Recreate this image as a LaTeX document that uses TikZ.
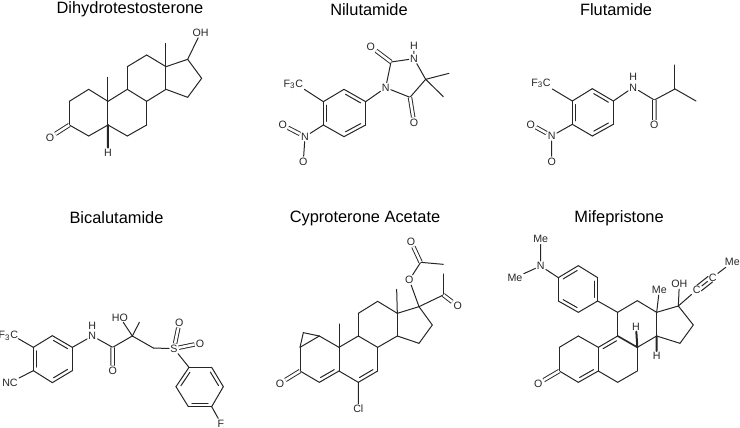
\documentclass[tikz,border=0pt]{standalone}
\usepackage{fontspec}
\setmainfont{Liberation Sans}
\usetikzlibrary{calc}
\definecolor{ink}{HTML}{262626}
\tikzset{
  bond/.style={draw=ink,line width=.75pt,line cap=round},
  boldbond/.style={draw=ink,line width=1.5pt,line cap=round},
  dbond/.style={draw=ink,line width=.7pt,double=white,double distance=1.9pt},
  atom/.style={inner sep=.8pt,text=ink,font=\fontsize{8}{8}\selectfont},
  molname/.style={inner sep=0pt,text=black,font=\fontsize{12.3}{14}\selectfont},
  mol/.style={scale=1/3}
}
\newcommand{\inbond}[3]{\draw[bond] ($(#1)!0.15!(#2)!8pt!#3:(#2)$) -- ($(#1)!0.85!(#2)!8pt!#3:(#2)$);}
\begin{document}
\begin{tikzpicture}[x=.75pt,y=-.75pt]
\useasboundingbox (0,0) rectangle (740,428);
\node[molname] (t1) at (130,9.5) {Dihydrotestosterone};
\node[molname] (t2) at (369,9.5) {Nilutamide};
\node[molname] (t3) at (616,9.5) {Flutamide};
\node[molname] (t4) at (116.5,218) {Bicalutamide};
\node[molname] (t5) at (365,218) {Cyproterone Acetate};
\node[molname] (t6) at (619,218) {Mifepristone};

% Dihydrotestosterone
\begin{scope}[shift={(30,0)},mol]
\foreach \n/\x/\y in {d3/118/375,d2/118/304,d1/176/268,d10/234/304,d5/234/375,d4/176/408,d9/292/268,d8/350/304,d7/350/375,d6/292/408,d11/292/200,d12/350/165,d13/408/200,d14/408/268,d15/473/292,d16/515/235,d17/473/178,dm13/408/130,dm10/234/232}
  \coordinate (\n) at (\x,\y);
\node[atom] (dO) at (60,412) {O};
\node[atom] (dOH) at (512,98) {OH};
\node[atom] (dH) at (234,458) {H};
\foreach \a/\b in {d3/d2,d2/d1,d1/d10,d10/d5,d5/d4,d4/d3,d10/d9,d9/d8,d8/d7,d7/d6,d6/d5,d9/d11,d11/d12,d12/d13,d13/d14,d14/d8,d14/d15,d15/d16,d16/d17,d17/d13,d13/dm13,d10/dm10,d17/dOH}
  \draw[bond] (\a)--(\b);
\draw[boldbond] (d5)--(dH);
\draw[dbond] (d3)--(dO);
\end{scope}

% Nilutamide
\begin{scope}[shift={(270,0)},mol]
\foreach \n/\x/\y in {na1/222/268,na2/287/305,na3/287/375,na4/222/410,na5/160/375,na6/160/305,ncf/103/268,nc1/363/186,nc2/467/238,nc3/420/292,nm1/537/220,nm2/520/290}
  \coordinate (\n) at (\x,\y);
\node[atom] (nF) at (70,253) {F\textsubscript{3}C};
\node[atom] (nNn) at (105,410) {N};
\node[atom] (nO1) at (38,375) {O};
\node[atom] (nO2) at (100,484) {O};
\node[atom] (nN) at (347,263) {N};
\node[atom] (nN2) at (432,176) {N};
\node[atom] (nH) at (432,138) {H};
\node[atom] (nO3) at (302,140) {O};
\node[atom] (nO4) at (432,367) {O};
\foreach \a/\b in {na1/na2,na2/na3,na3/na4,na4/na5,na5/na6,na6/na1,na6/ncf,na5/nNn,nNn/nO2,na2/nN,nN/nc1,nc1/nN2,nN2/nc2,nc2/nc3,nc3/nN,nc2/nm1,nc2/nm2,nN2/nH}
  \draw[bond] (\a)--(\b);
\draw[dbond] (nNn)--(nO1);
\draw[dbond] (nc1)--(nO3);
\draw[dbond] (nc3)--(nO4);
\inbond{na6}{na5}{90}
\inbond{na1}{na2}{-90}
\inbond{na4}{na3}{90}
\end{scope}

% Flutamide
\begin{scope}[shift={(510,0)},mol]
\foreach \n/\x/\y in {fa1/247/266,fa2/310/303,fa3/310/373,fa4/247/408,fa5/187/373,fa6/187/303,fcf/127/267,fc1/433/300,fc2/495/267,fm1/495/195,fm2/558/303}
  \coordinate (\n) at (\x,\y);
\node[atom] (fF) at (93,250) {F\textsubscript{3}C};
\node[atom] (fNn) at (125,408) {N};
\node[atom] (fO1) at (62,373) {O};
\node[atom] (fO2) at (125,484) {O};
\node[atom] (fN) at (370,262) {N};
\node[atom] (fH) at (370,230) {H};
\node[atom] (fO3) at (433,375) {O};
\foreach \a/\b in {fa1/fa2,fa2/fa3,fa3/fa4,fa4/fa5,fa5/fa6,fa6/fa1,fa6/fcf,fa5/fNn,fNn/fO2,fa2/fN,fN/fc1,fc1/fc2,fc2/fm1,fc2/fm2}
  \draw[bond] (\a)--(\b);
\draw[dbond] (fNn)--(fO1);
\draw[dbond] (fc1)--(fO3);
\inbond{fa6}{fa5}{90}
\inbond{fa1}{fa2}{-90}
\inbond{fa4}{fa3}{90}
\end{scope}

% Bicalutamide
\begin{scope}[shift={(0,260)},mol]
\foreach \n/\x/\y in {ba1/157/227,ba2/217/262,ba3/217/332,ba4/157/368,ba5/100/332,ba6/100/262,bcf/55/236,bc1/338/262,bc2/397/228,bm/418/187,bc3/460/264,bb1/567/322,bb2/635/322,bb3/670/380,bb4/635/440,bb5/565/440,bb6/528/380}
  \coordinate (\n) at (\x,\y);
\node[atom] (bF) at (25,228) {F\textsubscript{3}C};
\node[atom] (bNC) at (30,368) {NC};
\node[atom] (bN) at (277,228) {N};
\node[atom] (bH) at (277,197) {H};
\node[atom] (bO1) at (338,332) {O};
\node[atom] (bHO) at (360,172) {HO};
\node[atom] (bS) at (522,266) {S};
\node[atom] (bO2) at (538,188) {O};
\node[atom] (bO3) at (600,250) {O};
\node[atom] (bFl) at (663,490) {F};
\foreach \a/\b in {ba1/ba2,ba2/ba3,ba3/ba4,ba4/ba5,ba5/ba6,ba6/ba1,ba6/bcf,ba5/bNC,ba2/bN,bN/bc1,bc1/bc2,bc2/bm,bc2/bHO,bc2/bc3,bc3/bS,bS/bb1,bb1/bb2,bb2/bb3,bb3/bb4,bb4/bb5,bb5/bb6,bb6/bb1,bb4/bFl}
  \draw[bond] (\a)--(\b);
\draw[dbond] (bc1)--(bO1);
\draw[dbond] (bS)--(bO2);
\draw[dbond] (bS)--(bO3);
\inbond{ba6}{ba5}{90}
\inbond{ba1}{ba2}{-90}
\inbond{ba4}{ba3}{90}
\inbond{bb2}{bb3}{-90}
\inbond{bb5}{bb4}{90}
\inbond{bb6}{bb1}{-90}
\end{scope}

% Cyproterone Acetate
\begin{scope}[shift={(270,230)},mol]
\foreach \n/\x/\y in {c1/148/318,c2/90/352,c3/90/423,c4/148/457,c5/207/423,c6/265/457,c7/323/423,c8/323/352,c9/265/318,c10/207/352,c11/265/250,c12/323/214,c13/382/250,c14/382/318,c15/447/340,c16/487/285,c17/447/230,cap/100/308,cm13/380/178,cm10/207/282,cac/452/97,cme/520/103,cc2/520/195,cme2/520/132}
  \coordinate (\n) at (\x,\y);
\node[atom] (cO) at (30,460) {O};
\node[atom] (cCl) at (265,537) {Cl};
\node[atom] (cOe) at (418,150) {O};
\node[atom] (cOd) at (423,35) {O};
\node[atom] (cOk) at (563,228) {O};
\foreach \a/\b in {c1/c2,c2/c3,c3/c4,c4/c5,c5/c10,c10/c1,c5/c6,c6/c7,c7/c8,c8/c9,c9/c10,c9/c11,c11/c12,c12/c13,c14/c8,c14/c15,c15/c16,c16/c17,c17/c13,c1/cap,c2/cap,c13/cm13,c10/cm10,c6/cCl,c17/cOe,cOe/cac,cac/cme,c17/cc2,cc2/cme2}
  \draw[bond] (\a)--(\b);
\draw[boldbond,line width=1.1pt] (c13)--(c14);
\draw[dbond] (c3)--(cO);
\draw[dbond] (cac)--(cOd);
\draw[dbond] (cc2)--(cOk);
\inbond{c4}{c5}{90}
\inbond{c6}{c7}{90}
\end{scope}

% Mifepristone
\begin{scope}[shift={(500,230)},mol]
\foreach \n/\x/\y in {ma1/235/107,ma2/293/143,ma3/293/213,ma4/235/247,ma5/175/213,ma6/175/143,m1/235/318,m2/178/352,m3/178/423,m4/235/457,m5/295/423,m6/353/457,m7/412/423,m8/412/352,m9/353/318,m10/295/352,m11/353/247,m12/412/212,m13/470/247,m14/470/318,m15/540/340,m16/580/285,m17/535/228}
  \coordinate (\n) at (\x,\y);
\node[atom] (mMe1) at (122,28) {Me};
\node[atom] (mN) at (122,108) {N};
\node[atom] (mMe2) at (45,143) {Me};
\node[atom] (mO) at (115,460) {O};
\node[atom] (mMe3) at (478,180) {Me};
\node[atom] (mOH) at (538,162) {OH};
\node[atom] (mC1) at (590,180) {C};
\node[atom] (mC2) at (638,142) {C};
\node[atom] (mMe4) at (697,97) {Me};
\node[atom] (mH1) at (408,290) {H};
\node[atom] (mH2) at (470,378) {H};
\foreach \a/\b in {mMe1/mN,mMe2/mN,mN/ma6,ma1/ma2,ma2/ma3,ma3/ma4,ma4/ma5,ma5/ma6,ma6/ma1,ma3/m11,m11/m12,m12/m13,m13/m14,m14/m8,m8/m7,m7/m6,m6/m5,m5/m10,m10/m1,m1/m2,m2/m3,m3/m4,m4/m5,m9/m11,m13/m17,m17/m16,m16/m15,m15/m14,m17/mC1,mC2/mMe4,m17/mOH,m13/mMe3,m9/m10}
  \draw[bond] (\a)--(\b);
\draw[bond] (mC1)--(mC2);
\draw[boldbond,line width=1.2pt] (m9)--(m8);
\draw[boldbond] (m8)--(mH1);
\draw[boldbond] (m14)--(mH2);
\draw[dbond] (m3)--(mO);
\inbond{mC1}{mC2}{90}
\inbond{mC1}{mC2}{-90}
\inbond{m10}{m9}{-90}
\inbond{m4}{m5}{90}
\inbond{ma6}{ma1}{-90}
\inbond{ma2}{ma3}{-90}
\inbond{ma4}{ma5}{-90}
\end{scope}
\end{tikzpicture}
\end{document}
